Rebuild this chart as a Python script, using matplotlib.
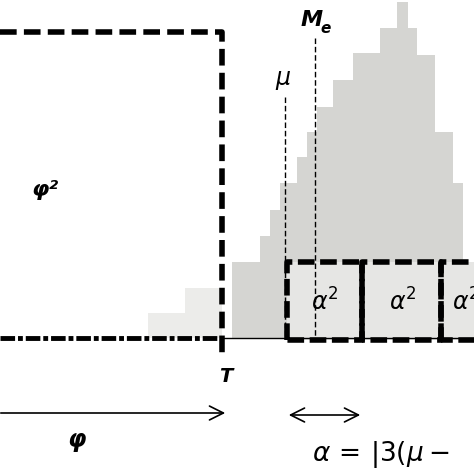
import matplotlib.pyplot as plt

# histogram bars (pixel space of original diagram)
edges = [148, 185, 222, 232, 260, 270, 280, 297, 307, 317, 333, 353, 380, 397, 408, 417, 435, 453, 463, 474]
tops = [313, 288, None, 262, 236, 210, 183, 157, 132, 107, 80, 53, 28, 2, 28, 55, 132, 183, 288]
light = [True, True, False, False, False, False, False, False, False, False, False, False, False, False, False, False, False, False, True]
base = 338

fig = plt.figure(figsize=(4.74, 4.74), dpi=100)
ax = fig.add_axes([0, 0, 1, 1])
ax.set_xlim(0, 474)
ax.set_ylim(474, 0)
ax.axis('off')

for i, t in enumerate(tops):
    if t is None:
        continue
    c = '#ececea' if light[i] else '#d5d5d2'
    ax.bar(edges[i], base - t, width=edges[i + 1] - edges[i], bottom=t, align='edge', color=c, lw=0)

# alpha boxes
for x0, x1 in [(287, 362), (362, 441), (441, 480)]:
    ax.fill_between([x0, x1], 262, 340, color='#e6e6e4', lw=0)
    ax.plot([x0, x0, x1, x1, x0], [340, 262, 262, 340, 340], 'k', lw=4, ls=(0, (3, 1)))

ax.plot([222, 474], [base, base], 'k', lw=1)
# phi box
ax.plot([0, 222, 222], [32, 32, 355], 'k', lw=4, ls=(0, (3, 1.3)))
ax.plot([0, 222], [338, 338], 'k', lw=3.5, ls=(0, (3, 0.6, 1, 0.6)))

ax.plot([285, 285], [97, 338], 'k', lw=1, ls=(0, (4, 2)))
ax.plot([315, 315], [38, 338], 'k', lw=1, ls=(0, (4, 2)))
ax.text(283, 80, r'$\mu$', fontsize=17, ha='center', va='center')
ax.text(312, 20, 'M', fontsize=16, ha='center', va='center', fontweight='bold', style='italic')
ax.text(326, 28, 'e', fontsize=11, ha='center', va='center', fontweight='bold', style='italic')
ax.text(45, 190, 'φ²', fontsize=16, ha='center', va='center', fontweight='bold', style='italic')
for x in [325, 403, 466]:
    ax.text(x, 302, r'$\alpha^2$', fontsize=17, ha='center', va='center')
ax.text(226, 377, 'T', fontsize=14, ha='center', va='center', fontweight='bold', style='italic')
ax.annotate('', xy=(228, 413), xytext=(-2, 413), arrowprops=dict(arrowstyle='->', lw=1.2, mutation_scale=25))
ax.annotate('', xy=(363, 415), xytext=(286, 415), arrowprops=dict(arrowstyle='<->', lw=1.2, mutation_scale=25))
ax.text(76, 440, 'φ', fontsize=17, ha='center', va='center', fontweight='bold', style='italic')
ax.text(312, 454, r'$\alpha\,=\,|3(\mu -$', fontsize=19, ha='left', va='center')

fig.savefig('out.png', dpi=100)
